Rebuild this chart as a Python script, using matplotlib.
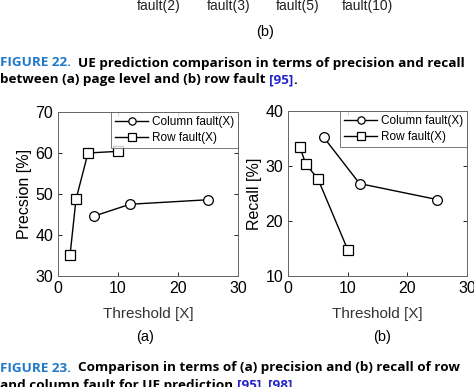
import matplotlib
matplotlib.use("Agg")
import matplotlib.pyplot as plt

plt.rcParams['font.family'] = ['Liberation Sans', 'DejaVu Sans']

# threshold values and results
col_x = [6, 12, 25]
row_x = [2, 3, 5, 10]
col_prec = [44.6, 47.5, 48.6]
row_prec = [35.0, 48.7, 60.0, 60.4]
col_rec = [35.2, 26.8, 23.9]
row_rec = [33.4, 30.3, 27.7, 14.8]
top_labels = ['fault(2)', 'fault(3)', 'fault(5)', 'fault(10)']
top_label_x = [159, 229, 298, 367]

W, H = 474, 387
fig = plt.figure(figsize=(W / 100, H / 100), dpi=100)

def box(x0, y0, x1, y1):
    return [x0 / W, 1 - y1 / H, (x1 - x0) / W, (y1 - y0) / H]

ax1 = fig.add_axes(box(58, 112, 238, 276))
ax2 = fig.add_axes(box(288, 111, 467, 276))

mk = dict(color='black', lw=1.0, mfc='white', mec='black', ms=7, mew=0.9)
for ax, cy, ry, ylab, ylim, yt in [
        (ax1, col_prec, row_prec, 'Precsion [%]', (30, 70), [30, 40, 50, 60, 70]),
        (ax2, col_rec, row_rec, 'Recall [%]', (10, 40), [10, 20, 30, 40])]:
    ax.plot(col_x, cy, marker='o', label='Column fault(X)', **mk)
    ax.plot(row_x, ry, marker='s', label='Row fault(X)', **mk)
    ax.set_xlim(0, 30)
    ax.set_ylim(*ylim)
    ax.set_xticks([0, 10, 20, 30])
    ax.set_yticks(yt)
    ax.tick_params(direction='in', labelsize=11.5, length=3, top=True, right=True,
                   labeltop=False, labelright=False, width=0.6)
    ax.set_xlabel('Threshold [X]', fontsize=11, color='#333333', labelpad=8)
    ax.set_ylabel(ylab, fontsize=11.5, labelpad=2)
    for s in ax.spines.values():
        s.set_linewidth(0.7)
        s.set_color('#666666')
    leg = ax.legend(loc='upper right', fontsize=8.5, frameon=True, fancybox=False,
                    handlelength=2.8, borderpad=0.35, labelspacing=0.3,
                    handletextpad=0.3, borderaxespad=0.0, markerscale=0.75)
    leg.get_frame().set_edgecolor('#555555')
    leg.get_frame().set_linewidth(0.7)

# text left over from the figure above
for lab, x in zip(top_labels, top_label_x):
    fig.text(x / W, 1 - 6 / H, lab, ha='center', va='center', fontsize=10, color='#222222')
fig.text(265 / W, 1 - 32 / H, '(b)', ha='center', va='center', fontsize=10.5)
fig.text(145 / W, 1 - 337 / H, '(a)', ha='center', va='center', fontsize=10.5)
fig.text(382 / W, 1 - 337 / H, '(b)', ha='center', va='center', fontsize=10.5)

cap = dict(fontsize=9.7, fontweight='bold', family='Open Sans', va='center')
blue = '#1f78c8'
link = '#2424c8'

def line(x, y, parts):
    prev = fig.text(x / W, 1 - y / H, parts[0][0], color=parts[0][1], ha='left', **cap)
    for txt, c in parts[1:]:
        prev = fig.add_artist(plt.Annotation(txt, xy=(1, 0.5), xycoords=prev,
                                             color=c, ha='left', **cap))
    return prev

line(0, 63, [('FIGURE 22.', blue),
             ('  UE prediction comparison in terms of precision and recall', 'black')])
line(0, 80, [('between (a) page level and (b) row fault ', 'black'), ('[95]', link), ('.', 'black')])
line(0, 368, [('FIGURE 23.', blue),
              ('  Comparison in terms of (a) precision and (b) recall of row', 'black')])
line(0, 385, [('and column fault for UE prediction ', 'black'), ('[95]', link),
              (', ', 'black'), ('[98]', link)])

fig.savefig('out.png', dpi=100)
